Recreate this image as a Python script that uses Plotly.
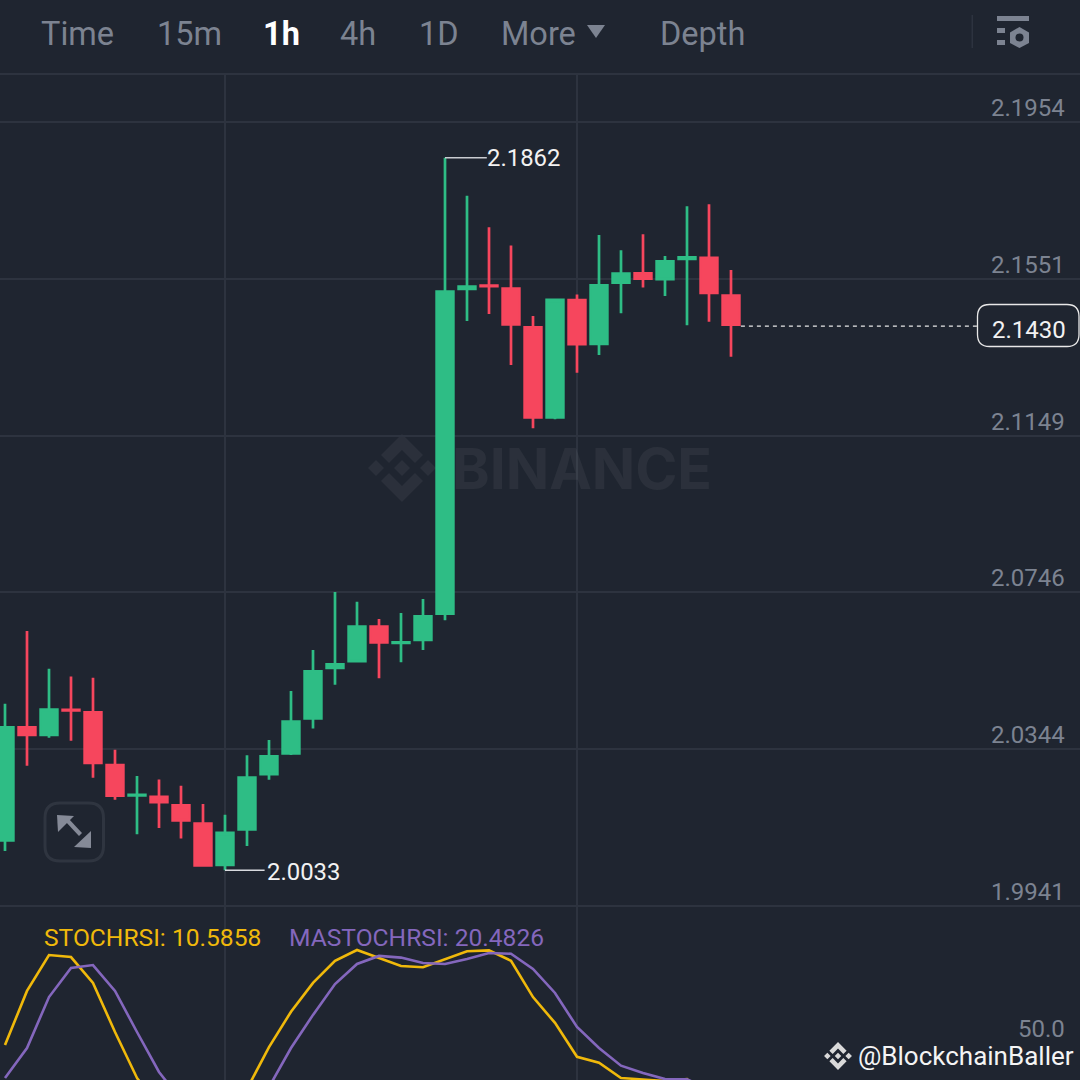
import plotly.graph_objects as go

candle_index = list(range(34))
opens = [2.0106,2.0403,2.0377,2.0448,2.0442,2.0306,2.0222,2.0225,2.0203,2.0156,2.0043,2.0134,2.0276,2.0329,2.0419,2.0549,2.0566,2.0662,2.0614,2.0621,2.0688,2.1522,2.1537,2.1530,2.1430,2.1192,2.1500,2.1381,2.1538,2.1569,2.1547,2.1599,2.1609,2.1512]
highs = [2.0460,2.0647,2.0550,2.0530,2.0527,2.0342,2.0275,2.0266,2.0250,2.0203,2.0175,2.0328,2.0367,2.0493,2.0598,2.0747,2.0722,2.0678,2.0693,2.0729,2.1862,2.1765,2.1684,2.1637,2.1456,2.1501,2.1511,2.1664,2.1625,2.1666,2.1610,2.1738,2.1743,2.1574]
lows = [2.0082,2.0301,2.0373,2.0365,2.0270,2.0214,2.0125,2.0141,2.0114,2.0042,2.0033,2.0095,2.0265,2.0329,2.0397,2.0509,2.0566,2.0526,2.0567,2.0598,2.0675,2.1443,2.1461,2.1330,2.1168,2.1191,2.1310,2.1356,2.1463,2.1529,2.1507,2.1432,2.1441,2.1351]
closes = [2.0403,2.0377,2.0449,2.0440,2.0305,2.0221,2.0229,2.0204,2.0157,2.0042,2.0132,2.0274,2.0329,2.0418,2.0547,2.0565,2.0662,2.0614,2.0621,2.0688,2.1522,2.1535,2.1530,2.1431,2.1192,2.1501,2.1380,2.1538,2.1568,2.1548,2.1600,2.1610,2.1512,2.1430]
stochrsi = [48.9,78.0,97.3,96.2,82.3,55.9,31.2,15,3,0,0,25.3,47.8,66.8,82.3,94.2,100,95.9,91.4,90.7,95.2,99.3,99.8,94.2,74.7,60.8,42.6,39.4,31.2,30.6,29.6,30.6,18,10.5858]
mastochrsi = [31.2,47.3,74.7,90.3,91.9,78,55.9,34.4,19.4,7,0,0,26.3,47.3,65.1,81.7,92.5,96.8,95.9,93,92.5,95.2,98.4,98,89.8,76.9,58.6,47.3,37.8,33.9,30.6,30.5,25,20.4826]
price_ticks = [2.1954,2.1551,2.1149,2.0746,2.0344,1.9941]
price_labels = ["2.1954","2.1551","2.1149","2.0746","2.0344","1.9941"]
time_ticks = [10,26]
menu_labels = ["Time","15m","1h","4h","1D","More","Depth"]

BG = "#1F2530"; GRID = "#2D333F"; GREEN = "#2EBD85"; RED = "#F6465D"
GREY = "#7C8391"; YELLOW = "#F0B90B"; PURPLE = "#8467BD"; FONT = "Roboto"

def X(p): return p / 1080
def Y(p): return 1 - p / 1080
def poly(pts):
    return "M" + " L".join(f"{X(a):.5f},{Y(b):.5f}" for a, b in pts) + " Z"
def rrect(x0, y0, x1, y1, r):
    return (f"M{X(x0+r):.5f},{Y(y0):.5f} L{X(x1-r):.5f},{Y(y0):.5f} Q{X(x1):.5f},{Y(y0):.5f} {X(x1):.5f},{Y(y0+r):.5f} "
            f"L{X(x1):.5f},{Y(y1-r):.5f} Q{X(x1):.5f},{Y(y1):.5f} {X(x1-r):.5f},{Y(y1):.5f} "
            f"L{X(x0+r):.5f},{Y(y1):.5f} Q{X(x0):.5f},{Y(y1):.5f} {X(x0):.5f},{Y(y1-r):.5f} "
            f"L{X(x0):.5f},{Y(y0+r):.5f} Q{X(x0):.5f},{Y(y0):.5f} {X(x0+r):.5f},{Y(y0):.5f} Z")

shapes = []
def add_path(path, fill=None, line=None, w=0, layer="above"):
    shapes.append(dict(type="path", xref="paper", yref="paper", path=path, layer=layer,
                       fillcolor=fill or "rgba(0,0,0,0)", line=dict(color=line or "rgba(0,0,0,0)", width=w)))

def logo(cx, cy, s, color, layer):
    chevron = [(0,-34),(21,-13),(13,-5),(0,-18),(-13,-5),(-21,-13)]
    add_path(poly([(cx+a*s, cy+b*s) for a, b in chevron]), color, layer=layer)
    add_path(poly([(cx+a*s, cy-b*s) for a, b in chevron]), color, layer=layer)
    for dx in (-26, 0, 26):
        add_path(poly([(cx+dx*s, cy-8*s),(cx+(dx+8)*s, cy),(cx+dx*s, cy+8*s),(cx+(dx-8)*s, cy)]), color, layer=layer)

# watermark
logo(402, 468, 1, "#2B303B", "below")
logo(838, 1056, 0.41, "#D9D9D9", "above")
# header
add_path(poly([(0,73),(1080,73),(1080,75),(0,75)]), GRID)
add_path(poly([(971.5,15),(973,15),(973,48),(971.5,48)]), GRID)
add_path(poly([(587,25),(605,25),(596,38)]), GREY)
add_path(poly([(997,16),(1029,16),(1029,21),(997,21)]), GREY)
add_path(poly([(997,28),(1005,28),(1005,33),(997,33)]), GREY)
add_path(poly([(997,40),(1005,40),(1005,45),(997,45)]), GREY)
add_path(poly([(1019.5,27),(1029,32.5),(1029,43),(1019.5,48),(1010,43),(1010,32.5)]), GREY)
add_path(rrect(1015.5,33.5,1023.5,41.5,4), BG)
# expand button
add_path(rrect(45,803,103.5,861,15), None, "#2F3540", 3)
add_path(poly([(57,815),(74,816),(58,832)]), "#858A97")
add_path(poly([(91,848),(74,847),(91,831)]), "#858A97")
add_path(poly([(65,821),(68,818),(82,833),(79,836)]), "#858A97")
# last-price pill
add_path(rrect(977.5,304.5,1079,346.5,12), BG, "#E8E8E8", 1.3)

# leader lines, tied to the data
shapes += [
    dict(type="line", xref="x", yref="y", x0=20, x1=21.9, y0=highs[20], y1=highs[20], line=dict(color="#C9CCD1", width=1.5)),
    dict(type="line", xref="x", yref="y", x0=10, x1=11.8, y0=lows[10], y1=lows[10], line=dict(color="#D9DBDF", width=1.5)),
    dict(type="line", xref="x", yref="y", x0=33.45, x1=44.2, y0=closes[33], y1=closes[33], line=dict(color="#E8E8E8", width=1.3, dash="4px,4px")),
]

ann = []
def text(x, y, s, size=24, color=GREY, anchor="left", family=FONT):
    ann.append(dict(xref="paper", yref="paper", x=X(x), y=Y(y), text=s, showarrow=False, xanchor=anchor,
                    yanchor="middle", borderpad=0, font=dict(family=family, size=size, color=color)))

menu_x = [40,156,262,339,418,500,659]
for lab, mx in zip(menu_labels, menu_x):
    text(mx, 33.5, f"<b>{lab}</b>" if lab == "1h" else lab, size=32.5, color="#FFFFFF" if lab == "1h" else GREY)

for p, lab in zip(price_ticks, price_labels):
    ann.append(dict(xref="paper", yref="y", x=X(1066), y=p, yshift=14, text=lab, showarrow=False, xanchor="right",
                    yanchor="middle", borderpad=0, font=dict(family=FONT, size=24, color=GREY)))
ann.append(dict(xref="paper", yref="y2", x=X(1066), y=50, yshift=14, text="50.0", showarrow=False, xanchor="right",
                yanchor="middle", borderpad=0, font=dict(family=FONT, size=24, color=GREY)))
ann.append(dict(xref="x", yref="y", x=21.87, y=highs[20], text="2.1862", showarrow=False, xanchor="left", yanchor="middle",
                borderpad=0, font=dict(family=FONT, size=23.9, color="#F2F2F2")))
ann.append(dict(xref="x", yref="y", x=11.85, y=lows[10], yshift=-2, text="2.0033", showarrow=False, xanchor="left", yanchor="middle",
                borderpad=0, font=dict(family=FONT, size=23.9, color="#F2F2F2")))
text(1029, 330, "2.1430", color="#F2F2F2", anchor="center")
text(43, 937, "STOCHRSI: 10.5858", size=24.6, color=YELLOW)
text(288, 937, "MASTOCHRSI: 20.4826", size=24.6, color=PURPLE)
text(451, 468, "<b>BINANCE</b>", size=57, color="rgba(255,255,255,0.055)", family="Inter")
text(1075, 1056, "@BlockchainBaller", size=26, color="#F4F4F4", anchor="right")

# plotly strokes the body outside its open/close edges; inset so the outer edge lands on the value,
# never so far that a thin body flips direction
inset = 0.00035
draw_open, draw_close = [], []
for o, c in zip(opens, closes):
    d = min(inset, abs(c - o) * 0.4)
    if c >= o:
        draw_open.append(o + d); draw_close.append(c - d)
    else:
        draw_open.append(o - d); draw_close.append(c + d)

fig = go.Figure()
fig.add_trace(go.Candlestick(x=candle_index, open=draw_open, high=highs, low=lows, close=draw_close, whiskerwidth=0,
                             increasing=dict(line=dict(color=GREEN, width=2.7), fillcolor=GREEN),
                             decreasing=dict(line=dict(color=RED, width=2.7), fillcolor=RED),
                             xaxis="x", yaxis="y", showlegend=False))
fig.add_trace(go.Scatter(x=candle_index, y=stochrsi, mode="lines", line=dict(color=YELLOW, width=2.6),
                         xaxis="x2", yaxis="y2", showlegend=False))
fig.add_trace(go.Scatter(x=candle_index, y=mastochrsi, mode="lines", line=dict(color=PURPLE, width=2.6),
                         xaxis="x2", yaxis="y2", showlegend=False))

xr = [-5/22, 1075/22]
xcommon = dict(range=xr, tickvals=time_ticks, showticklabels=False, showgrid=True, gridcolor=GRID, gridwidth=1.5,
               zeroline=False, showline=False, ticks="")
fig.update_layout(
    width=1080, height=1080, margin=dict(l=0, r=0, t=0, b=0), paper_bgcolor=BG, plot_bgcolor=BG,
    boxgap=0.05, boxgroupgap=0.2, boxmode="overlay", hovermode=False, showlegend=False,
    xaxis=dict(domain=[0,1], anchor="y", rangeslider=dict(visible=False), **xcommon),
    xaxis2=dict(domain=[0,1], anchor="y2", **xcommon),
    yaxis=dict(domain=[170/1080, 1-74/1080], range=[1.99307, 2.20773], tickvals=price_ticks, showticklabels=False,
               showgrid=True, gridcolor=GRID, gridwidth=1.5, zeroline=False, showline=False, ticks=""),
    yaxis2=dict(domain=[0, 170/1080], range=[30.1, 121.5], showticklabels=False, showgrid=False, zeroline=False,
                showline=False, ticks=""),
    shapes=shapes, annotations=ann,
)
fig.write_html("out.html", config=dict(displayModeBar=False), post_script="document.body.style.margin='0';document.body.style.background='#1F2530';")
